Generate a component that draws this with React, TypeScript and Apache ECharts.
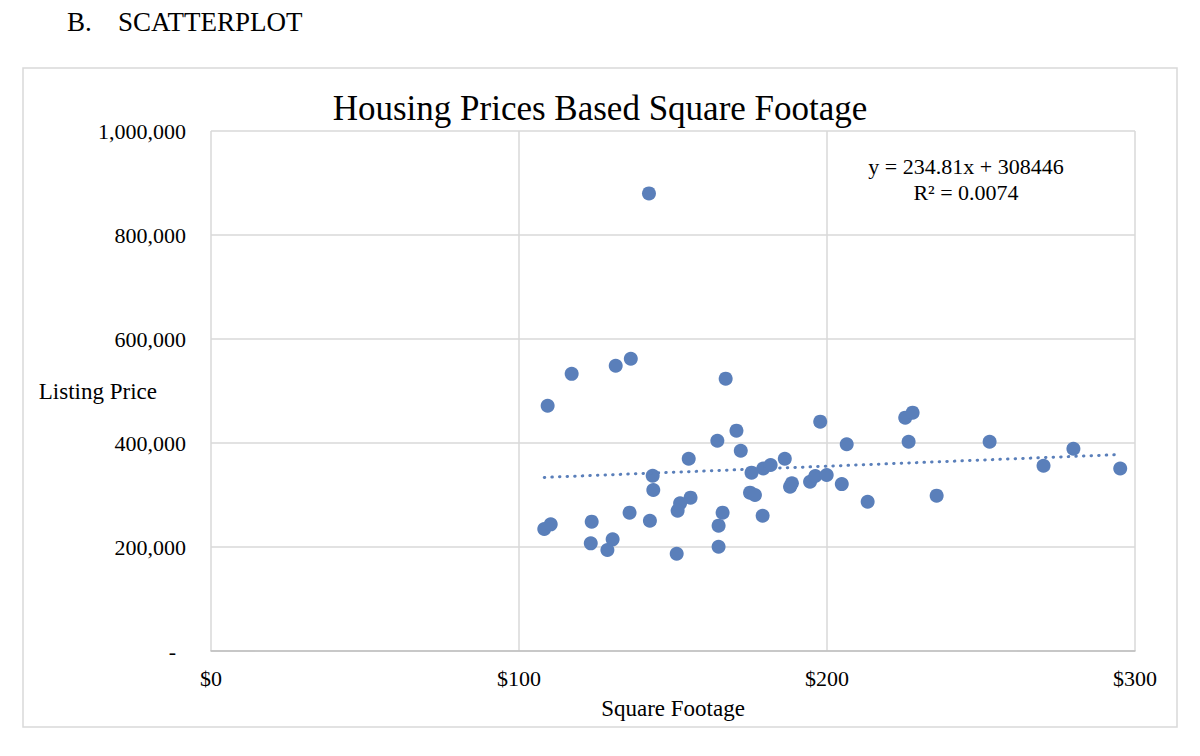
import React, { useEffect, useRef } from "react";
import * as echarts from "echarts";

// Square footage (x) and listing price (y)
const sqft = [
  109.3, 117.1, 131.4, 136.3, 142.2, 167.1, 170.6, 164.4, 172.0, 155.1,
  186.3, 197.8, 206.4, 143.4, 143.6, 175.5, 179.3, 181.7, 188.0, 188.6,
  194.5, 196.2, 199.9, 204.8, 175.0, 176.6, 179.1, 155.7, 152.3, 151.5,
  166.1, 164.8, 164.8, 151.2, 142.5, 135.9, 123.6, 123.3, 130.4, 128.7,
  108.2, 110.3, 225.4, 227.8, 226.5, 252.8, 280.0, 270.3, 295.2, 213.2,
  235.6,
];
const price = [
  471700, 533000, 548600, 562000, 880000, 523700, 423700, 404400, 385200, 369800,
  369800, 441000, 397500, 337000, 309600, 343000, 351000, 357700, 316000, 322500,
  325600, 336500, 338500, 321000, 304500, 300000, 260000, 294900, 284000, 269900,
  266000, 241000, 200600, 187000, 250600, 266000, 248700, 207000, 214700, 194200,
  234600, 243600, 448700, 458300, 402500, 402500, 389000, 356300, 351000, 287000,
  298700,
];

// Trendline coefficients shown on the chart
const slope = 234.81;
const intercept = 308446;
const eqLines = ["y = 234.81x + 308446", "R² = 0.0074"];

const xTicks = { min: 0, max: 300, interval: 100 };
const yTicks = { min: 0, max: 1000000, interval: 200000 };

const chartTitle = "Housing Prices Based Square Footage";
const xName = "Square Footage";
const yName = "Listing Price";

const FONT = "'Liberation Serif', 'Times New Roman', serif";
const BLUE = "#5a7fba";

export default function App() {
  const ref = useRef<HTMLDivElement>(null);

  useEffect(() => {
    if (!ref.current) return;
    const chart = echarts.init(ref.current, null, { renderer: "svg" });
    const pts = sqft.map((x, i) => [x, price[i]]);
    const xMin = Math.min(...sqft);
    const xMax = Math.max(...sqft);
    const trend = [
      [xMin, slope * xMin + intercept],
      [xMax, slope * xMax + intercept],
    ];

    chart.setOption({
      animation: false,
      backgroundColor: "#ffffff",
      title: {
        text: chartTitle,
        left: "center",
        top: 86,
        textStyle: { fontFamily: FONT, fontSize: 35, fontWeight: "normal", color: "#000" },
      },
      grid: {
        left: 211,
        right: 65,
        top: 131,
        bottom: 105,
        containLabel: false,
        outerBoundsMode: "none",
      },
      xAxis: {
        type: "value",
        min: xTicks.min,
        max: xTicks.max,
        interval: xTicks.interval,
        name: xName,
        nameLocation: "middle",
        nameGap: 46,
        nameTextStyle: { fontFamily: FONT, fontSize: 23, color: "#000" },
        axisLine: { show: true, lineStyle: { color: "#bfbfbf", width: 1.5 } },
        axisTick: { show: false },
        axisLabel: {
          margin: 16,
          fontFamily: FONT,
          fontSize: 22,
          color: "#000",
          formatter: (v: number) => "$" + v,
        },
        splitLine: { show: true, lineStyle: { color: "#d9d9d9", width: 1.5 } },
      },
      yAxis: {
        type: "value",
        min: yTicks.min,
        max: yTicks.max,
        interval: yTicks.interval,
        axisLine: { show: false },
        axisTick: { show: false },
        axisLabel: {
          margin: 25,
          fontFamily: FONT,
          fontSize: 22,
          color: "#000",
          formatter: (v: number) => (v === 0 ? "{d|-}" : v.toLocaleString("en-US")),
          rich: {
            d: { fontFamily: FONT, fontSize: 22, color: "#000", padding: [0, 10, 0, 0] },
          },
        },
        splitLine: { show: true, lineStyle: { color: "#d9d9d9", width: 1.5 } },
      },
      graphic: [
        {
          type: "rect",
          shape: { x: 23, y: 68, width: 1154, height: 659 },
          style: { fill: "none", stroke: "#d9d9d9", lineWidth: 1.5 },
          silent: true,
        },
        {
          type: "text",
          x: 67,
          y: 22,
          style: { text: "B.", font: `27px ${FONT}`, fill: "#000", textVerticalAlign: "middle" },
        },
        {
          type: "text",
          x: 118,
          y: 22,
          style: { text: "SCATTERPLOT", font: `27px ${FONT}`, fill: "#000", textVerticalAlign: "middle" },
        },
        {
          type: "text",
          x: 157,
          y: 391,
          style: { text: yName, font: `23px ${FONT}`, fill: "#000", textAlign: "right", textVerticalAlign: "middle" },
        },
        {
          type: "text",
          x: 966,
          y: 166,
          style: { text: eqLines[0], font: `22px ${FONT}`, fill: "#000", textAlign: "center", textVerticalAlign: "middle" },
        },
        {
          type: "text",
          x: 966,
          y: 192,
          style: { text: eqLines[1], font: `22px ${FONT}`, fill: "#000", textAlign: "center", textVerticalAlign: "middle" },
        },
      ],
      series: [
        {
          type: "scatter",
          data: pts,
          symbol: "circle",
          symbolSize: 14,
          itemStyle: { color: BLUE, opacity: 1 },
          z: 2,
        },
        {
          type: "line",
          data: trend,
          symbol: "none",
          lineStyle: { color: BLUE, width: 3, type: [0.5, 7.1], cap: "round" },
          z: 3,
          silent: true,
        },
      ],
    });
    return () => chart.dispose();
  }, []);

  return (
    <div
      ref={ref}
      style={{ position: "fixed", left: 0, top: 0, width: 1200, height: 756, background: "#fff" }}
    />
  );
}
